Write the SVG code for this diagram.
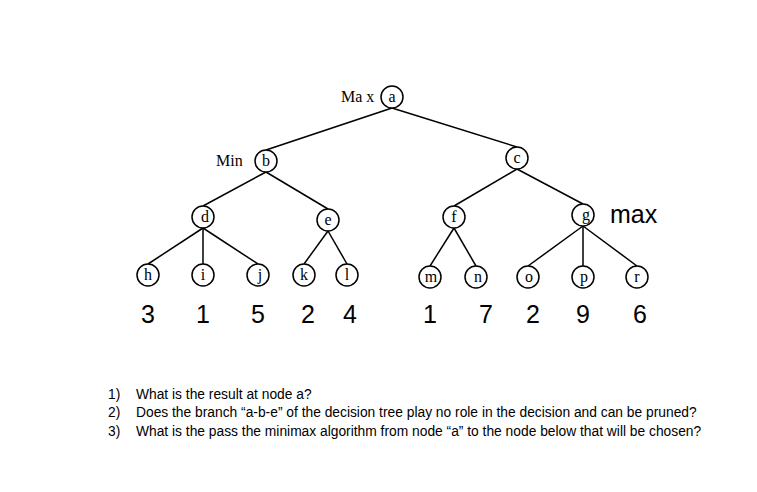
<svg xmlns="http://www.w3.org/2000/svg" width="757" height="492" viewBox="0 0 757 492">
<style>
.n circle{fill:#fff;stroke:#000;stroke-width:1.5}
.n text{font-family:"Liberation Serif",serif;font-size:16px;text-anchor:middle}
.lbl{font-family:"Liberation Serif",serif;font-size:16px}
.num{font-family:"Liberation Sans",sans-serif;font-size:25px;text-anchor:middle}
.q{font-family:"Liberation Sans",sans-serif;font-size:13.8px}
#edges line{stroke:#000;stroke-width:1.5}
</style>
<rect width="757" height="492" fill="#fff"/>
<g id="edges">
<line x1="392" y1="108" x2="266" y2="150"/>
<line x1="392" y1="108" x2="517" y2="147"/>
<line x1="266" y1="172" x2="203" y2="206"/>
<line x1="266" y1="172" x2="328" y2="209"/>
<line x1="517" y1="169" x2="454" y2="206"/>
<line x1="517" y1="169" x2="583" y2="204"/>
<line x1="203" y1="228" x2="148" y2="264"/>
<line x1="203" y1="228" x2="203" y2="264"/>
<line x1="203" y1="228" x2="258" y2="264"/>
<line x1="328" y1="231" x2="304" y2="264"/>
<line x1="328" y1="231" x2="347" y2="264"/>
<line x1="454" y1="228" x2="430" y2="266"/>
<line x1="454" y1="228" x2="476" y2="266"/>
<line x1="583" y1="226" x2="528" y2="266"/>
<line x1="583" y1="226" x2="583" y2="266"/>
<line x1="583" y1="226" x2="637" y2="266"/>
</g>
<g id="a" class="n"><circle cx="392" cy="97" r="11"/><text x="392" y="102">a</text></g>
<g id="b" class="n"><circle cx="266" cy="161" r="11"/><text x="266" y="166">b</text></g>
<g id="c" class="n"><circle cx="517" cy="158" r="11"/><text x="517" y="163">c</text></g>
<g id="d" class="n"><circle cx="203" cy="217" r="11"/><text x="205" y="222">d</text></g>
<g id="e" class="n"><circle cx="328" cy="220" r="11"/><text x="328" y="225">e</text></g>
<g id="f" class="n"><circle cx="454" cy="217" r="11"/><text x="454" y="222">f</text></g>
<g id="g" class="n"><circle cx="583" cy="215" r="11"/><text x="586" y="220">g</text></g>
<g id="h" class="n"><circle cx="148" cy="275" r="11"/><text x="148" y="280">h</text></g>
<g id="i" class="n"><circle cx="203" cy="275" r="11"/><text x="203" y="280">i</text></g>
<g id="j" class="n"><circle cx="258" cy="275" r="11"/><text x="260" y="280">j</text></g>
<g id="k" class="n"><circle cx="304" cy="275" r="11"/><text x="304" y="280">k</text></g>
<g id="l" class="n"><circle cx="347" cy="275" r="11"/><text x="347" y="280">l</text></g>
<g id="m" class="n"><circle cx="430" cy="277" r="11"/><text x="431" y="282">m</text></g>
<g id="nn" class="n"><circle cx="476" cy="277" r="11"/><text x="478" y="282">n</text></g>
<g id="o" class="n"><circle cx="528" cy="277" r="11"/><text x="529" y="282">o</text></g>
<g id="p" class="n"><circle cx="583" cy="277" r="11"/><text x="584" y="282">p</text></g>
<g id="r" class="n"><circle cx="637" cy="277" r="11"/><text x="637" y="282">r</text></g>
<text class="lbl" x="341" y="102">Ma x</text>
<text class="lbl" x="216" y="166">Min</text>
<text x="610" y="223" font-family="'Liberation Sans',sans-serif" font-size="25">max</text>
<g>
<text class="num" x="148" y="323">3</text>
<text class="num" x="203" y="323">1</text>
<text class="num" x="258" y="323">5</text>
<text class="num" x="308" y="323">2</text>
<text class="num" x="350" y="323">4</text>
<text class="num" x="430" y="323">1</text>
<text class="num" x="486" y="323">7</text>
<text class="num" x="533" y="323">2</text>
<text class="num" x="583" y="323">9</text>
<text class="num" x="640" y="323">6</text>
</g>
<text class="q" x="108" y="399">1)</text><text class="q" x="136" y="399">What is the result at node a?</text>
<text class="q" x="108" y="417">2)</text><text class="q" x="136" y="417">Does the branch “a-b-e” of the decision tree play no role in the decision and can be pruned?</text>
<text class="q" x="108" y="436">3)</text><text class="q" x="136" y="436">What is the pass the minimax algorithm from node “a” to the node below that will be chosen?</text>
</svg>
